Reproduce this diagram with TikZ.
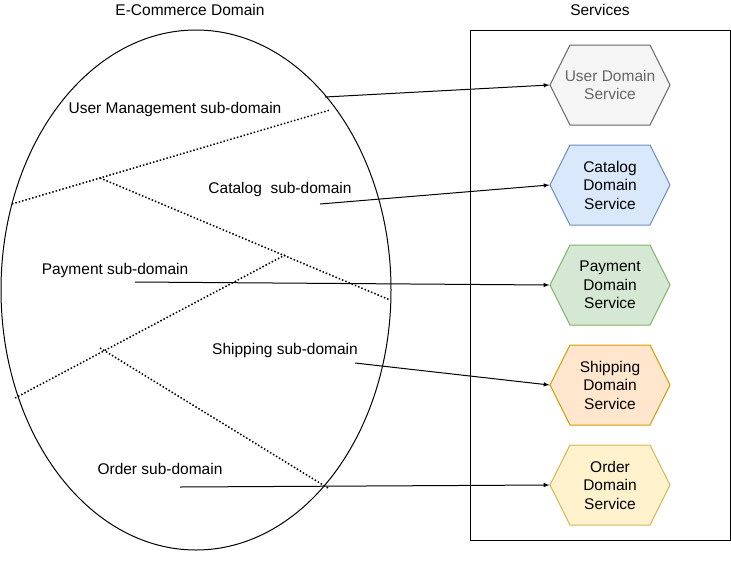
\documentclass[tikz,border=0pt]{standalone}
\usepackage{fontspec}
\setmainfont{Liberation Sans}
\definecolor{usrfill}{HTML}{F5F5F5}\definecolor{usrline}{HTML}{666666}
\definecolor{catfill}{HTML}{DAE8FC}\definecolor{catline}{HTML}{6C8EBF}
\definecolor{payfill}{HTML}{D5E8D4}\definecolor{payline}{HTML}{82B366}
\definecolor{shpfill}{HTML}{FFE6CC}\definecolor{shpline}{HTML}{D79B00}
\definecolor{ordfill}{HTML}{FFF2CC}\definecolor{ordline}{HTML}{D6B656}
\tikzset{service/.style={minimum width=120pt,minimum height=80pt,inner sep=0pt,align=center},
  sub label/.style={inner sep=1pt},
  link/.style={-latex},
  split/.style={dotted,line width=1.5pt}}
\newcommand{\hexsvc}[5]{%
  \draw[fill=#3,draw=#4] (610,#2) ++(-60,0) -- ++(20,-40) -- ++(80,0) -- ++(20,40)
    -- ++(-20,40) -- ++(-80,0) -- cycle;
  \node[service] (#1) at (610,#2) {#5};}
\begin{document}
\begin{tikzpicture}[x=1pt,y=-1pt,line width=1pt,font=\fontsize{15.5}{18.5}\selectfont]
				\useasboundingbox (0,0) rectangle (731,571);
				\node at (190,10) {E-Commerce Domain};
				\node at (600,10) {Services};
				\draw (196,290) ellipse [x radius=195,y radius=260];
				\draw (470,30) rectangle (730,540);
				\hexsvc{usr}{85}{usrfill}{usrline}{\color{usrline}User Domain\\\color{usrline}Service}
				\hexsvc{cat}{185}{catfill}{catline}{Catalog\\Domain\\Service}
				\hexsvc{pay}{285}{payfill}{payline}{Payment\\Domain\\Service}
				\hexsvc{shp}{385}{shpfill}{shpline}{Shipping\\Domain\\Service}
				\hexsvc{ord}{485}{ordfill}{ordline}{Order\\Domain\\Service}
				\node[sub label] (usrsub) at (175,109) {User Management sub-domain};
				\node[sub label] (catsub) at (280,189) {Catalog~~sub-domain};
				\node[sub label] (paysub) at (115,270) {Payment sub-domain};
				\node[sub label] (shpsub) at (285,350) {Shipping sub-domain};
				\node[sub label] (ordsub) at (160,469) {Order sub-domain};
				\coordinate (u0) at (325,97);
				\coordinate (c0) at (320,204);
				\coordinate (p0) at (135,282);
				\coordinate (s0) at (355,363);
				\coordinate (o0) at (180,487);
				\draw[link] (u0) -- (usr.west);
				\draw[link] (c0) -- (cat.west);
				\draw[link] (p0) -- (pay.west);
				\draw[link] (s0) -- (shp.west);
				\draw[link] (o0) -- (ord.west);
				\draw[split] (12,204) -- (330,110);
				\draw[split] (100,178) -- (390,300);
				\draw[split] (15,398) -- (285,255);
				\draw[split] (100,348) -- (328,488);
			\end{tikzpicture}
\end{document}
